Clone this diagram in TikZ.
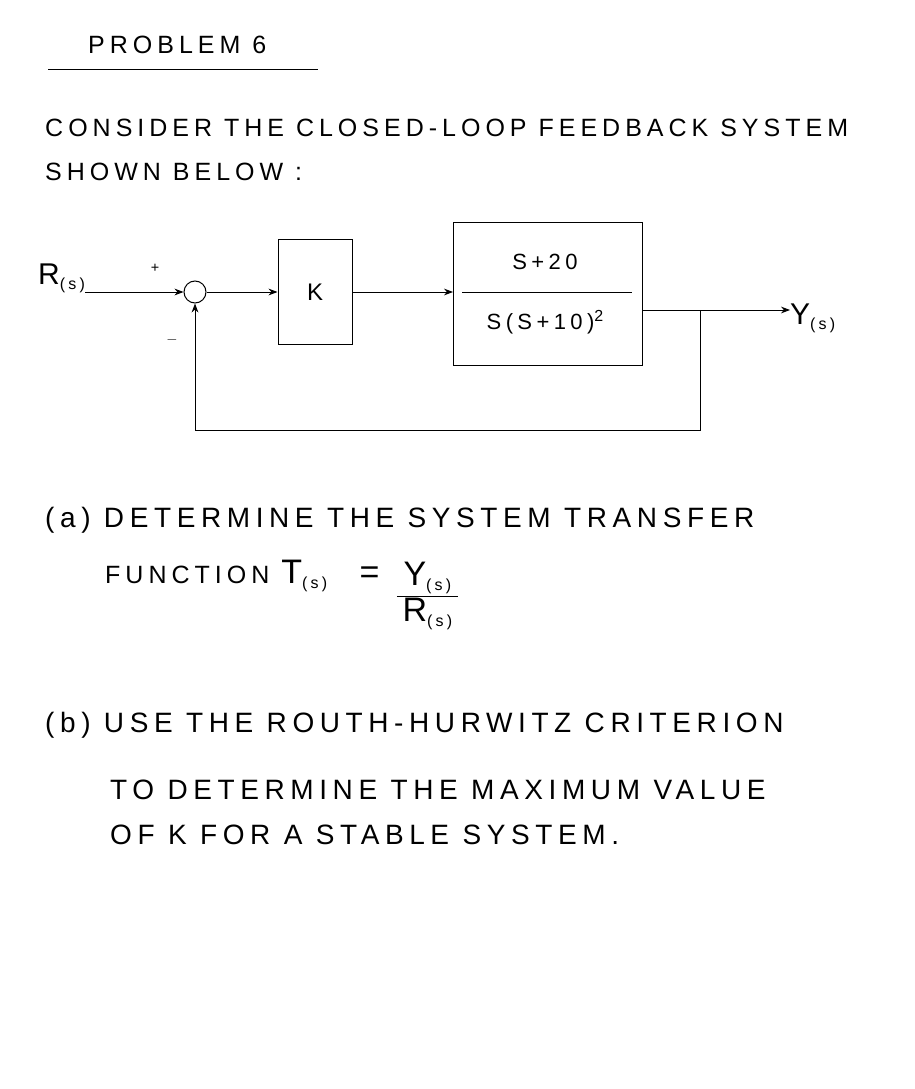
\documentclass[tikz,border=0pt]{standalone}
\usepackage{fontspec}
\setmainfont{Liberation Sans}[LetterSpace=20]
\usetikzlibrary{arrows.meta}
\newcommand{\subs}{\raisebox{-5pt}{\fontsize{16}{18}\selectfont(s)}}
\begin{document}
\begin{tikzpicture}[x=1pt,y=-1pt,
  txt/.style={font=\fontsize{25}{30}\selectfont,anchor=west,inner sep=0},
  txtb/.style={font=\fontsize{28}{32}\selectfont,anchor=west,inner sep=0},
  blk/.style={draw,line width=1pt,minimum width=#1,inner sep=0},
  sig/.style={line width=1pt,-{Stealth[length=9pt]}},
  ln/.style={line width=1pt}]
\useasboundingbox (0,0) rectangle (915,1089);
\fill[white] (0,0) rectangle (915,1089);
\node[txt] (title) at (88,45) {PROBLEM 6};
\draw[ln] (48,70) -- (318,70);
\node[txt] (l1) at (45,128) {CONSIDER THE CLOSED-LOOP FEEDBACK SYSTEM};
\node[txt] (l2) at (45,172) {SHOWN BELOW :};
% diagram
\node[txt,font=\fontsize{30}{34}\selectfont] (R) at (38,278) {R\subs};
\node[draw,circle,line width=1pt,minimum size=22pt,inner sep=0] (sum) at (195,292) {};
\node[font=\Large] (plus) at (155,268) {+};
\node[font=\Large] (minus) at (172,340) {$-$};
\node[blk=74pt,minimum height=105pt,font=\fontsize{24}{28}\selectfont] (K) at (315,292) {K};
\node[blk=189pt,minimum height=143pt] (G) at (548,294) {};
\node[font=\fontsize{22}{26}\selectfont] (num) at (545,262) {S+20};
\draw[ln] (462,292) -- (632,292);
\node[font=\fontsize{22}{26}\selectfont] (den) at (545,322) {S(S+10)\raisebox{8pt}{\fontsize{16}{18}\selectfont 2}};
\node[txt,font=\fontsize{30}{34}\selectfont] (Y) at (790,318) {Y\subs};
\coordinate (br) at (700,310);
\coordinate (bb) at (700,430);
\draw[sig] (R.east |- sum) -- (sum.west);
\draw[sig] (sum.east) -- (K.west);
\draw[sig] (K.east |- sum) -- (G.west |- sum);
\draw[sig] (G.east |- br) -- (Y.west |- br);
\draw[sig] (br) -- (bb) -- (sum.south |- bb) -- (sum.south);
% parts
\node[txtb] (a1) at (45,520) {(a) DETERMINE THE SYSTEM TRANSFER};
\node[txt] (a2) at (105,595) {FUNCTION \fontsize{34}{36}\selectfont T\subs\ \ = \raisebox{-0.55em}{$\displaystyle\frac{\mbox{\,Y\subs\,}}{\mbox{\,R\subs\,}}$}};
\node[txtb] (b1) at (45,725) {(b) USE THE ROUTH-HURWITZ CRITERION};
\node[txtb] (b2) at (110,790) {TO DETERMINE THE MAXIMUM VALUE};
\node[txtb] (b3) at (110,835) {OF K FOR A STABLE SYSTEM.};
\end{tikzpicture}
\end{document}
